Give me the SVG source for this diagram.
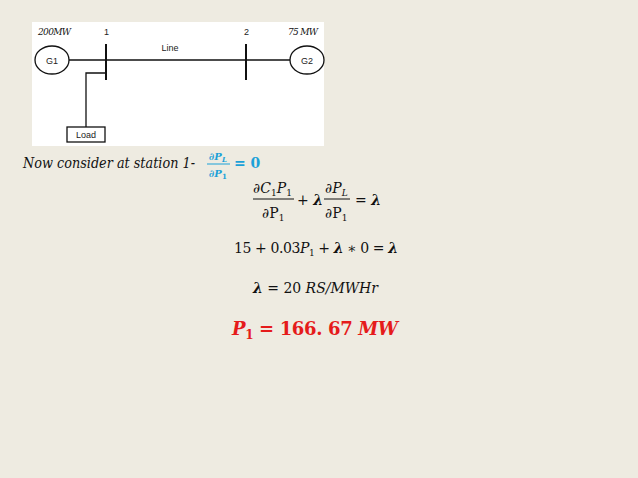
<svg xmlns="http://www.w3.org/2000/svg" width="638" height="478" viewBox="0 0 638 478">
<style>
.s{font-family:"Liberation Sans",Arial,sans-serif;font-size:9px;fill:#222}
.m{font-family:"DejaVu Serif","Liberation Serif",serif;fill:#111}
.ln{stroke:#111;fill:none;stroke-width:1.3}
</style>
<rect width="638" height="478" fill="#EEEBE1"/>
<rect x="32" y="22" width="292" height="124" fill="#fff"/>
<g id="connectors">
<line class="ln" x1="69" y1="60" x2="290" y2="60"/>
<polyline class="ln" points="106,73 86,73 86,127"/>
</g>
<g id="bus1"><line x1="106" y1="44" x2="106" y2="80" stroke="#111" stroke-width="2"/><text class="s" x="104" y="35">1</text></g>
<g id="bus2"><line x1="246" y1="44" x2="246" y2="80" stroke="#111" stroke-width="2"/><text class="s" x="244" y="35">2</text></g>
<g id="g1"><ellipse class="ln" cx="52" cy="60" rx="17" ry="14"/><text class="s" x="52" y="63.5" text-anchor="middle">G1</text></g>
<g id="g2"><ellipse class="ln" cx="307" cy="60" rx="17" ry="14"/><text class="s" x="307" y="63.5" text-anchor="middle">G2</text></g>
<g id="load"><rect class="ln" x="67" y="127" width="38" height="15"/><text class="s" x="86" y="138" text-anchor="middle">Load</text></g>
<text class="m" x="38" y="35" font-size="9" font-style="italic" textLength="33">200MW</text>
<text class="m" x="288" y="35" font-size="9" font-style="italic" textLength="30">75 MW</text>
<text class="s" x="170" y="51" text-anchor="middle">Line</text>
<text class="m" x="23" y="168" font-size="14" font-style="italic" textLength="172" lengthAdjust="spacingAndGlyphs">Now consider at station 1-</text>
<g fill="#1BA1D8" font-family="DejaVu Serif,serif" font-weight="bold" font-size="10">
<text x="209" y="160">∂<tspan font-style="italic">P</tspan><tspan font-size="7" dy="2" font-style="italic">L</tspan></text>
<line x1="207" y1="164" x2="230" y2="164" stroke="#1BA1D8" stroke-width="1"/>
<text x="209" y="177">∂<tspan font-style="italic">P</tspan><tspan font-size="7" dy="2">1</tspan></text>
<text x="234" y="168" font-size="14">= 0</text>
</g>
<g class="m" font-size="14">
<text x="253" y="193">∂<tspan font-style="italic">C</tspan><tspan font-size="9" dy="3">1</tspan><tspan font-style="italic" dy="-3">P</tspan><tspan font-size="9" dy="3">1</tspan></text>
<line x1="253" y1="199" x2="294" y2="199" stroke="#111" stroke-width="1"/>
<text x="262" y="218">∂P<tspan font-size="9" dy="3">1</tspan></text>
<text x="297" y="205">+ <tspan font-weight="bold" font-style="italic">λ</tspan></text>
<text x="325" y="193">∂<tspan font-style="italic">P</tspan><tspan font-size="9" dy="3" font-style="italic">L</tspan></text>
<line x1="324" y1="199" x2="350" y2="199" stroke="#111" stroke-width="1"/>
<text x="325" y="218">∂P<tspan font-size="9" dy="3">1</tspan></text>
<text x="355" y="205">= <tspan font-weight="bold" font-style="italic">λ</tspan></text>
<text x="234" y="253" textLength="164">15 + 0.03<tspan font-style="italic">P</tspan><tspan font-size="9" dy="3">1</tspan><tspan dy="-3"> + </tspan><tspan font-weight="bold" font-style="italic">λ</tspan> ∗ 0 = <tspan font-weight="bold" font-style="italic">λ</tspan></text>
<text x="253" y="293" textLength="125"><tspan font-weight="bold" font-style="italic">λ</tspan> = 20 <tspan font-style="italic">RS/MWHr</tspan></text>
</g>
<text x="232" y="335" font-family="DejaVu Serif,serif" font-size="18" font-weight="bold" fill="#E51B1B" textLength="166"><tspan font-style="italic">P</tspan><tspan font-size="12" dy="4">1</tspan><tspan dy="-4"> = 166. 67 </tspan><tspan font-style="italic">MW</tspan></text>
</svg>
